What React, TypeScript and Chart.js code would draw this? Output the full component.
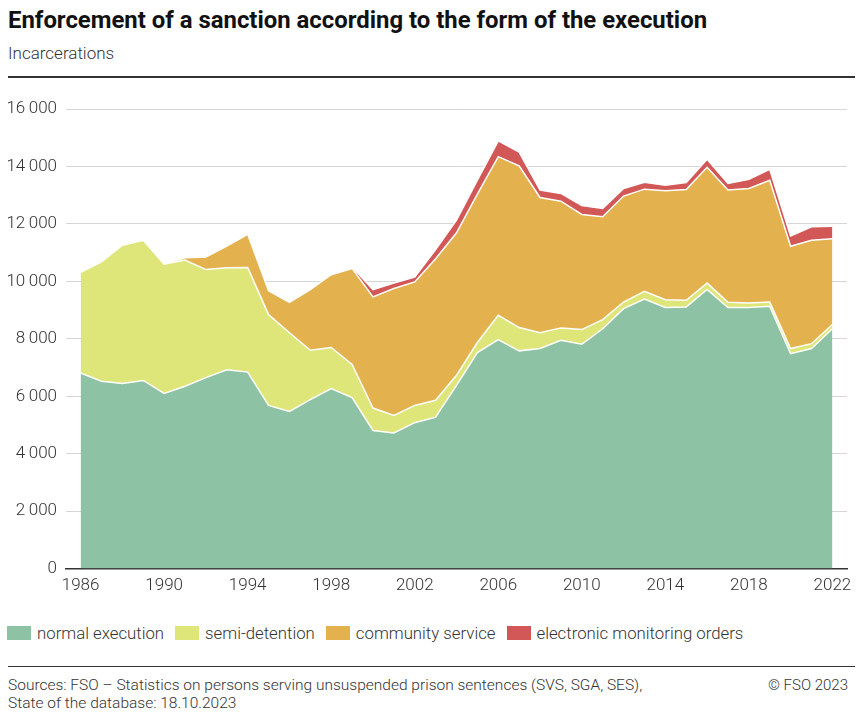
import React, { useEffect, useRef } from "react";
import { Chart, registerables } from "chart.js";

Chart.register(...registerables);

const years = [1986,1987,1988,1989,1990,1991,1992,1993,1994,1995,1996,1997,1998,1999,2000,2001,2002,2003,2004,2005,2006,2007,2008,2009,2010,2011,2012,2013,2014,2015,2016,2017,2018,2019,2020,2021,2022];

const normalExecution = [6810,6520,6440,6550,6100,6350,6650,6920,6840,5680,5470,5880,6270,5950,4810,4720,5080,5270,6380,7520,7970,7580,7660,7950,7810,8350,9050,9380,9090,9110,9720,9090,9090,9130,7480,7660,8350];

const semiDetention = [3500,4160,4820,4880,4500,4390,3760,3550,3640,3160,2740,1720,1430,1160,780,610,600,590,350,350,850,810,550,430,510,320,230,270,270,230,220,180,160,150,180,170,150];

const communityService = [0,0,0,0,0,80,440,760,1160,830,1060,2110,2530,3340,3870,4420,4300,4930,4960,5170,5520,5630,4710,4410,4010,3580,3690,3560,3790,3860,4030,3910,3980,4240,3560,3600,2980];

const electronicMonitoring = [0,0,0,0,0,0,0,0,0,0,0,0,0,50,250,190,170,320,440,480,550,480,260,270,310,290,260,240,200,240,280,230,320,380,360,470,440];

const xTicks = [1986,1990,1994,1998,2002,2006,2010,2014,2018,2022];
const yTicks = [0,2000,4000,6000,8000,10000,12000,14000,16000];

const seriesNames = ["normal execution","semi-detention","community service","electronic monitoring orders"];
const seriesColors = ["#8dc3a4","#dee579","#e3b24e","#d25757"];
const seriesValues = [normalExecution, semiDetention, communityService, electronicMonitoring];

const FONT = "Roboto, 'Noto Sans', sans-serif";

function fmt(v: number) {
  const s = Math.round(v).toString();
  return s.replace(/\B(?=(\d{3})+(?!\d))/g, "\u2009");
}

export default function App() {
  const ref = useRef<HTMLCanvasElement | null>(null);

  useEffect(() => {
    if (!ref.current) return;
    const chart = new Chart(ref.current, {
      type: "line",
      data: {
        datasets: seriesValues.map((vals, i) => ({
          label: seriesNames[i],
          data: years.map((y, j) => ({ x: y, y: vals[j] })),
          backgroundColor: seriesColors[i],
          borderColor: "#ffffff",
          borderWidth: 1.5,
          pointRadius: 0,
          fill: i === 0 ? "origin" : "-1",
          tension: 0,
        })),
      },
      options: {
        animation: false,
        responsive: false,
        maintainAspectRatio: false,
        layout: { padding: { top: 20, right: 15, bottom: 0, left: 0 } },
        plugins: { legend: { display: false }, tooltip: { enabled: false } },
        scales: {
          x: {
            type: "linear",
            min: 1985.3,
            max: 2022.7,
            afterBuildTicks: (scale: any) => {
              scale.ticks = xTicks.map((v) => ({ value: v }));
            },
            grid: { display: false, drawTicks: false },
            border: { display: true, color: "#333333", width: 1.5 },
            ticks: {
              padding: 7,
              color: "#333333",
              font: { family: FONT, size: 17, weight: 300 as any },
              maxRotation: 0,
              autoSkip: false,
              callback: (v: any) => String(v),
            },
          },
          y: {
            stacked: true,
            min: 0,
            max: 16000,
            afterBuildTicks: (scale: any) => {
              scale.ticks = yTicks.map((v) => ({ value: v }));
            },
            afterFit: (scale: any) => {
              scale.width = 58;
            },
            grid: { color: "#d6d6d6", lineWidth: 1, drawTicks: false },
            border: { display: false },
            ticks: {
              padding: 9,
              color: "#333333",
              font: { family: FONT, size: 17, weight: 300 as any },
              callback: (v: any) => fmt(Number(v)),
            },
          },
        },
      },
    });
    return () => chart.destroy();
  }, []);

  const textColor = "#333333";

  return (
    <div style={{ position: "absolute", left: 0, top: 0, width: 862, height: 721, overflow: "hidden", background: "#fff", fontFamily: FONT }}>
      <div style={{ position: "absolute", left: 8, top: 5, fontSize: 23.9, fontWeight: 700, color: "#111", whiteSpace: "nowrap", lineHeight: "30px" }}>
        Enforcement of a sanction according to the form of the execution
      </div>
      <div style={{ position: "absolute", left: 8, top: 42, fontSize: 17, fontWeight: 300, color: textColor, whiteSpace: "nowrap", lineHeight: "22px" }}>
        Incarcerations
      </div>
      <div style={{ position: "absolute", left: 8, top: 76, width: 847, height: 1.5, background: "#333" }} />
      <canvas ref={ref} width={854} height={514} style={{ position: "absolute", left: 8, top: 89, width: 854, height: 514 }} />
      <div style={{ position: "absolute", left: 7, top: 622, display: "flex", alignItems: "center", whiteSpace: "nowrap" }}>
        {seriesNames.map((n, i) => (
          <div key={n} style={{ display: "flex", alignItems: "center", marginRight: 11 }}>
            <div style={{ width: 24, height: 14, background: seriesColors[i], marginRight: 6 }} />
            <span style={{ fontSize: 16.8, fontWeight: 300, color: textColor, lineHeight: "22px" }}>{n}</span>
          </div>
        ))}
      </div>
      <div style={{ position: "absolute", left: 8, top: 665.5, width: 847, height: 1.5, background: "#333" }} />
      <div style={{ position: "absolute", left: 8, top: 676, fontSize: 15.5, fontWeight: 300, color: textColor, lineHeight: "18px", whiteSpace: "nowrap" }}>
        Sources: FSO – Statistics on persons serving unsuspended prison sentences (SVS, SGA, SES),
        <br />
        State of the database: 18.10.2023
      </div>
      <div style={{ position: "absolute", right: 14, top: 676, fontSize: 15, fontWeight: 300, color: textColor, lineHeight: "18px", whiteSpace: "nowrap" }}>
        © FSO 2023
      </div>
    </div>
  );
}
